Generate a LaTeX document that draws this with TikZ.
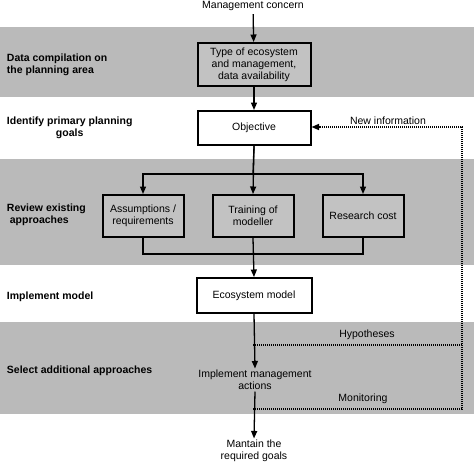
\documentclass[tikz,border=0pt]{standalone}
\usepackage{fontspec}
\setmainfont{Liberation Sans}
\usetikzlibrary{arrows.meta}
\definecolor{bandgray}{RGB}{186,186,186}
\definecolor{boxgray}{RGB}{194,194,194}
\begin{document}
\begin{tikzpicture}[x=1pt,y=-1pt,->,>={Triangle[length=7.5pt,width=6pt]},line width=1.3pt,
    font=\fontsize{10.5}{12}\selectfont]
    \tikzstyle{block}=[draw,line width=2pt,align=center,inner sep=1pt]
    \tikzstyle{stage}=[anchor=west,align=left,font=\fontsize{10.5}{12}\selectfont\bfseries]
    \tikzstyle{feedback}=[line width=1.5pt,dash pattern=on 1.2pt off 0.8pt]

    \useasboundingbox (0,0) rectangle (474,474);
    % grey bands
    \fill[bandgray] (0,27) rectangle (474,97);
    \fill[bandgray] (0,159) rectangle (474,265);
    \fill[bandgray] (0,322) rectangle (474,414);

    % stage labels
    \node[stage] (L-1) at (3,65) {Data compilation on\\the planning area};
    \node[stage,align=center] (L-2) at (3,128) {Identify primary planning\\goals};
    \node[stage] (L-3) at (3,215) {Review existing\\\ approaches};
    \node[stage] (L-4) at (3,297) {Implement model};
    \node[stage] (L-5) at (3,371) {Select additional approaches};

    % main column
    \node (C-0) at (253,5.5) {Management concern};
    \node[block,fill=boxgray,minimum width=113pt,minimum height=43pt] (C-1) at (254,64.5)
        {Type of ecosystem\\and management,\\data availability};
    \node[block,fill=white,minimum width=113pt,minimum height=34pt] (C-2) at (254,128) {Objective};
    \node[block,fill=boxgray,minimum width=81pt,minimum height=42pt] (A-1) at (143,216)
        {Assumptions /\\requirements};
    \node[block,fill=boxgray,minimum width=81pt,minimum height=42pt] (A-2) at (253,216)
        {Training of\\modeller};
    \node[block,fill=boxgray,minimum width=81pt,minimum height=42pt] (A-3) at (363,216)
        {Research cost};
    \node[block,fill=white,minimum width=115pt,minimum height=35pt] (C-3) at (254,295.5)
        {Ecosystem model};
    \node[align=center,inner sep=1pt] (C-4) at (255,380) {Implement management\\actions};
    \node[align=center,inner sep=1pt] (C-5) at (254,451) {Mantain the\\required goals};

    \coordinate (split) at (253,174);
    \coordinate (merge) at (253,254);

    \path (C-0) edge (C-1);
    \path (C-1) edge (C-2);
    \path (C-2.south) edge (A-2.north);
    \draw[-] (C-2.south) -- (split);
    \draw (split) -| (A-1.north);
    \draw (split) -| (A-3.north);
    \draw[-] (A-1.south) |- (merge);
    \draw[-] (A-3.south) |- (merge);
    \path (A-2.south) edge (C-3.north);
    \path (C-3.south) edge (C-4.north);
    \path (C-4.south) edge (C-5.north);

    % feedback loop
    \coordinate (H-0) at (253,345);
    \coordinate (H-1) at (462,345);
    \coordinate (M-0) at (253,409);
    \coordinate (M-1) at (462,409);
    \coordinate (N-1) at (462,127);
    \draw[feedback,-] (H-0) -- (H-1);
    \draw[feedback] (M-0) -- (M-1) -- (N-1) -- (C-2.east |- N-1);
    \node (F-1) at (367,335) {Hypotheses};
    \node (F-2) at (363,399) {Monitoring};
    \node (F-3) at (388,121) {New information};
\end{tikzpicture}
\end{document}
